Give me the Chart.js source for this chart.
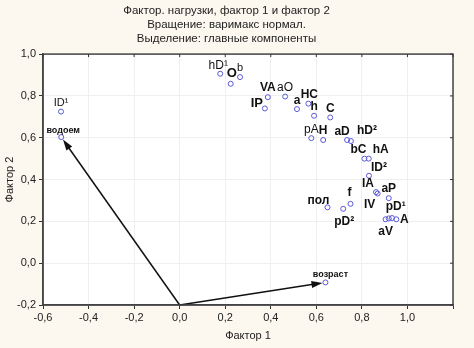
<!DOCTYPE html>
<html>
<head>
<meta charset="utf-8">
<script src="https://cdn.jsdelivr.net/npm/chart.js@4"></script>
<style>
  html, body { margin: 0; padding: 0; background: #fdf8ef; }
  #wrap { width: 474px; height: 348px; }
</style>
</head>
<body>
<div id="wrap"><canvas id="factorChart" width="474" height="348"></canvas></div>
<script>
// loadings, factor 1 / factor 2
const pointNames = ["hD¹", "O", "b", "VA", "IP", "aO", "a", "HC", "h", "C", "pA", "H", "aD", "hD²",
	"bC", "hA", "ID²", "IA", "IV", "aP", "aV", "pD¹", "", "A", "f", "pD²", "пол", "ID¹", "водоем", "возраст"];
const factor1 = [0.178, 0.224, 0.265, 0.387, 0.374, 0.463, 0.515, 0.565, 0.590, 0.661, 0.578, 0.630, 0.735, 0.752,
	0.811, 0.830, 0.831, 0.862, 0.869, 0.918, 0.904, 0.918, 0.932, 0.951, 0.750, 0.718, 0.649, -0.521, -0.520, 0.640];
const factor2 = [0.906, 0.858, 0.890, 0.794, 0.740, 0.797, 0.737, 0.763, 0.705, 0.697, 0.598, 0.589, 0.589, 0.584,
	0.500, 0.500, 0.418, 0.340, 0.333, 0.311, 0.210, 0.214, 0.216, 0.210, 0.284, 0.260, 0.267, 0.725, 0.603, -0.092];
const arrowOrigin = [0.0, -0.2];
const arrowTargets = ["водоем", "возраст"];
const xRange = [-0.6, 1.2];
const yRange = [-0.2, 1.0];
const tickStep = 0.2;

const titleLines = ["Фактор. нагрузки, фактор 1 и фактор 2", "Вращение: варимакс нормал.", "Выделение: главные компоненты"];
const xTitle = "Фактор 1";
const yTitle = "Фактор 2";

// label placement (pixels from the point) and font
const labelStyle = {
	"hD¹": [-2, -8, "12px"], "O": [1, -10, "bold 13px"], "b": [0, -9, "11px"],
	"VA": [0, -9, "bold 12px"], "IP": [-8, -5, "bold 13px"], "aO": [0, -9, "12px"],
	"a": [0, -8, "bold 12px"], "HC": [1, -9, "bold 12px"], "h": [0, -9, "bold 12px"],
	"C": [0, -9, "bold 12px"], "pA": [0, -8, "12px"], "H": [0, -9, "bold 12px"],
	"aD": [-5, -8, "bold 12px"], "hD²": [16, -10, "bold 12px"], "bC": [-6, -9, "bold 12px"],
	"hA": [12, -9, "bold 12px"], "ID²": [10, -8, "bold 12px"], "IA": [-8, -8, "bold 12px"],
	"IV": [-8, 11, "bold 12px"], "aP": [0, -9, "bold 12px"], "pD¹": [7, -12, "bold 12px"],
	"A": [8, 0, "bold 12px"], "aV": [0, 12, "bold 12px"], "f": [-1, -11, "bold 12px"],
	"pD²": [1, 13, "bold 12px"], "пол": [-9, -7, "bold 12px"], "ID¹": [0, -9, "11px"],
	"водоем": [2, -7, "bold 9px"], "возраст": [5, -8, "bold 9px"],
};

const fontFamily = "'Liberation Sans', Arial, sans-serif";
const fmt = (v) => (Math.round(v * 10) / 10).toFixed(1).replace(".", ",").replace("-0,0", "0,0");

const points = factor1.map((x, i) => ({ x: x, y: factor2[i] }));

const backdrop = {
	id: "backdrop",
	beforeDraw(chart) {
		const { ctx, chartArea: a } = chart;
		ctx.save();
		ctx.fillStyle = "#fdf8ef";
		ctx.fillRect(0, 0, chart.width, chart.height);
		ctx.fillStyle = "#ffffff";
		ctx.fillRect(a.left, a.top, a.right - a.left, a.bottom - a.top);
		ctx.restore();
	},
	beforeDatasetsDraw(chart) {
		const { ctx, scales } = chart;
		const ox = scales.x.getPixelForValue(arrowOrigin[0]);
		const oy = scales.y.getPixelForValue(arrowOrigin[1]);
		ctx.save();
		ctx.strokeStyle = "#111";
		ctx.fillStyle = "#111";
		ctx.lineWidth = 1.5;
		arrowTargets.forEach((name) => {
			const i = pointNames.indexOf(name);
			const tx = scales.x.getPixelForValue(factor1[i]);
			const ty = scales.y.getPixelForValue(factor2[i]);
			const len = Math.hypot(tx - ox, ty - oy);
			const ux = (tx - ox) / len, uy = (ty - oy) / len;
			const ex = tx - ux * 3, ey = ty - uy * 3;
			ctx.beginPath();
			ctx.moveTo(ox, oy);
			ctx.lineTo(ex - ux * 6, ey - uy * 6);
			ctx.stroke();
			ctx.beginPath();
			ctx.moveTo(ex, ey);
			ctx.lineTo(ex - ux * 11 - uy * 3.5, ey - uy * 11 + ux * 3.5);
			ctx.lineTo(ex - ux * 11 + uy * 3.5, ey - uy * 11 - ux * 3.5);
			ctx.closePath();
			ctx.fill();
		});
		ctx.restore();
	},
	afterDatasetsDraw(chart) {
		const { ctx, scales, chartArea: a } = chart;
		ctx.save();
		// frame and inner ticks on top / right
		ctx.strokeStyle = "#444";
		ctx.lineWidth = 1.5;
		ctx.strokeRect(a.left, a.top, a.right - a.left, a.bottom - a.top);
		ctx.lineWidth = 1;
		ctx.strokeStyle = "#333";
		scales.x.ticks.forEach((t) => {
			const px = scales.x.getPixelForValue(t.value);
			ctx.beginPath(); ctx.moveTo(px, a.top); ctx.lineTo(px, a.top + 3); ctx.stroke();
		});
		scales.y.ticks.forEach((t) => {
			const py = scales.y.getPixelForValue(t.value);
			ctx.beginPath(); ctx.moveTo(a.right, py); ctx.lineTo(a.right - 3, py); ctx.stroke();
		});
		// point names
		ctx.fillStyle = "#111";
		ctx.textAlign = "center";
		ctx.textBaseline = "middle";
		pointNames.forEach((name, i) => {
			if (!name) return;
			const s = labelStyle[name] || [0, -9, "12px"];
			ctx.font = s[2] + " " + fontFamily;
			ctx.fillText(name, scales.x.getPixelForValue(factor1[i]) + s[0], scales.y.getPixelForValue(factor2[i]) + s[1]);
		});
		ctx.restore();
	},
};

new Chart(document.getElementById("factorChart").getContext("2d"), {
	type: "scatter",
	data: {
		datasets: [
			{
				label: "нагрузки",
				data: points,
				pointRadius: 2.5,
				pointHoverRadius: 2.5,
				pointBorderWidth: 1,
				pointBorderColor: "#5a5ad8",
				pointBackgroundColor: "rgba(255,255,255,0)",
			},
		],
	},
	options: {
		responsive: false,
		animation: false,
		events: [],
		layout: { padding: { left: 0, right: 21, top: 0, bottom: 0 } },
		plugins: {
			legend: { display: false },
			tooltip: { enabled: false },
			title: {
				display: true,
				text: titleLines,
				color: "#222",
				font: { family: fontFamily, size: 11.5, weight: "normal", lineHeight: 1.22 },
				padding: { top: 4, bottom: 8 },
			},
		},
		scales: {
			x: {
				type: "linear",
				min: xRange[0],
				max: xRange[1],
				afterFit(scale) { scale.height = 43; },
				ticks: {
					stepSize: tickStep,
					color: "#222",
					padding: 2,
					font: { family: fontFamily, size: 11 },
					callback: (v) => (v > xRange[1] - 0.01 ? "" : fmt(v)),
				},
				grid: { color: "#efefef", tickColor: "#333", tickLength: 4 },
				border: { color: "#444", width: 1.5 },
				title: {
					display: true,
					text: xTitle,
					color: "#222",
					font: { family: fontFamily, size: 11 },
					padding: { top: 0, bottom: 5 },
				},
			},
			y: {
				type: "linear",
				min: yRange[0],
				max: yRange[1],
				afterFit(scale) { scale.width = 43; },
				ticks: {
					stepSize: tickStep,
					color: "#222",
					padding: 3,
					font: { family: fontFamily, size: 11 },
					callback: (v) => fmt(v),
				},
				grid: { color: "#efefef", tickColor: "#333", tickLength: 4 },
				border: { color: "#444", width: 1.5 },
				title: {
					display: true,
					text: yTitle,
					color: "#222",
					font: { family: fontFamily, size: 11 },
					padding: { top: 3, bottom: 0 },
				},
			},
		},
	},
	plugins: [backdrop],
});
</script>
</body>
</html>
